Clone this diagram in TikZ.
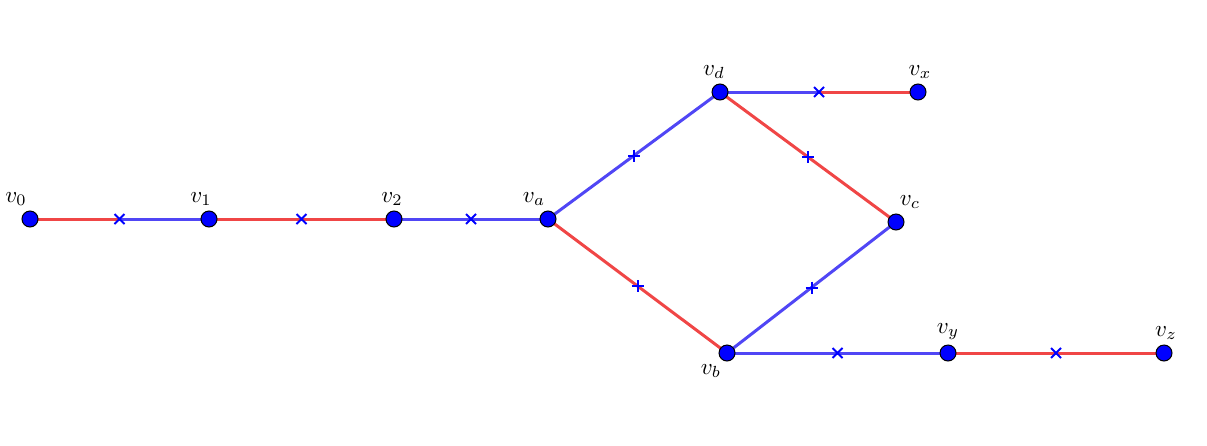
\documentclass[tikz,border=0pt]{standalone}
\usetikzlibrary{calc}
\begin{document}
\begin{tikzpicture}[x=1pt,y=-1pt,
  vert/.style={circle,fill=blue,draw=black,line width=1pt,minimum size=16pt,inner sep=0pt},
  lab/.style={scale=2.3,inner sep=1pt},
  re/.style={draw={rgb,255:red,240;green,70;blue,70},line width=3pt},
  be/.style={draw={rgb,255:red,80;green,70;blue,245},line width=3pt},
  mk/.style={draw=blue,line width=2pt}]
\useasboundingbox (0,0) rectangle (1207,445);
\coordinate (p0) at (30,219); \coordinate (p1) at (209,219); \coordinate (p2) at (394,219);
\coordinate (pa) at (548,219); \coordinate (pd) at (720,92); \coordinate (px) at (918,92);
\coordinate (pc) at (896,222); \coordinate (pb) at (727,353); \coordinate (py) at (948,353);
\coordinate (pz) at (1164,353);
\foreach \a/\b/\n in {p0/p1/m01,p1/p2/m12,p2/pa/m2a,pd/px/mdx,pb/py/mby,py/pz/myz,pa/pd/mad,pd/pc/mdc,pb/pc/mbc,pa/pb/mab}
  \coordinate (\n) at ($(\a)!0.5!(\b)$);
\draw[re] (p0) -- (m01); \draw[be] (m01) -- (p1);
\draw[re] (p1) -- (p2); \draw[be] (p2) -- (pa);
\draw[be] (pa) -- (pd); \draw[re] (pd) -- (pc);
\draw[re] (pa) -- (pb); \draw[be] (pb) -- (pc);
\draw[be] (pd) -- (mdx); \draw[re] (mdx) -- (px);
\draw[be] (pb) -- (py); \draw[re] (py) -- (pz);
\foreach \m in {m01,m12,m2a,mdx,mby,myz}
  \draw[mk] ($(\m)+(-5,-5)$) -- ($(\m)+(5,5)$) ($(\m)+(-5,5)$) -- ($(\m)+(5,-5)$);
\foreach \m in {mad,mdc,mbc,mab}
  \draw[mk] ($(\m)+(-6,0)$) -- ($(\m)+(6,0)$) ($(\m)+(0,-6)$) -- ($(\m)+(0,6)$);
\foreach \p/\n in {p0/v0,p1/v1,p2/v2,pa/va,pd/vd,px/vx,pc/vc,pb/vb,py/vy,pz/vz}
  \node[vert] (\n) at (\p) {};
\node[lab,anchor=south] (l0) at ($(v0.north)+(-14,-2)$) {$v_0$};
\node[lab,anchor=south] (l1) at ($(v1.north)+(-8,-2)$) {$v_1$};
\node[lab,anchor=south] (l2) at ($(v2.north)+(-2,-2)$) {$v_2$};
\node[lab,anchor=south] (la) at ($(va.north)+(-14,-2)$) {$v_a$};
\node[lab,anchor=south] (ld) at ($(vd.north)+(-6,-2)$) {$v_d$};
\node[lab,anchor=south] (lx) at ($(vx.north)+(2,-2)$) {$v_x$};
\node[lab,anchor=south] (lc) at ($(vc.north)+(14,-2)$) {$v_c$};
\node[lab,anchor=north] (lb) at ($(vb.south)+(-16,0)$) {$v_b$};
\node[lab,anchor=south] (ly) at ($(vy.north)+(0,-2)$) {$v_y$};
\node[lab,anchor=south] (lz) at ($(vz.north)+(2,-2)$) {$v_z$};
\end{tikzpicture}
\end{document}
